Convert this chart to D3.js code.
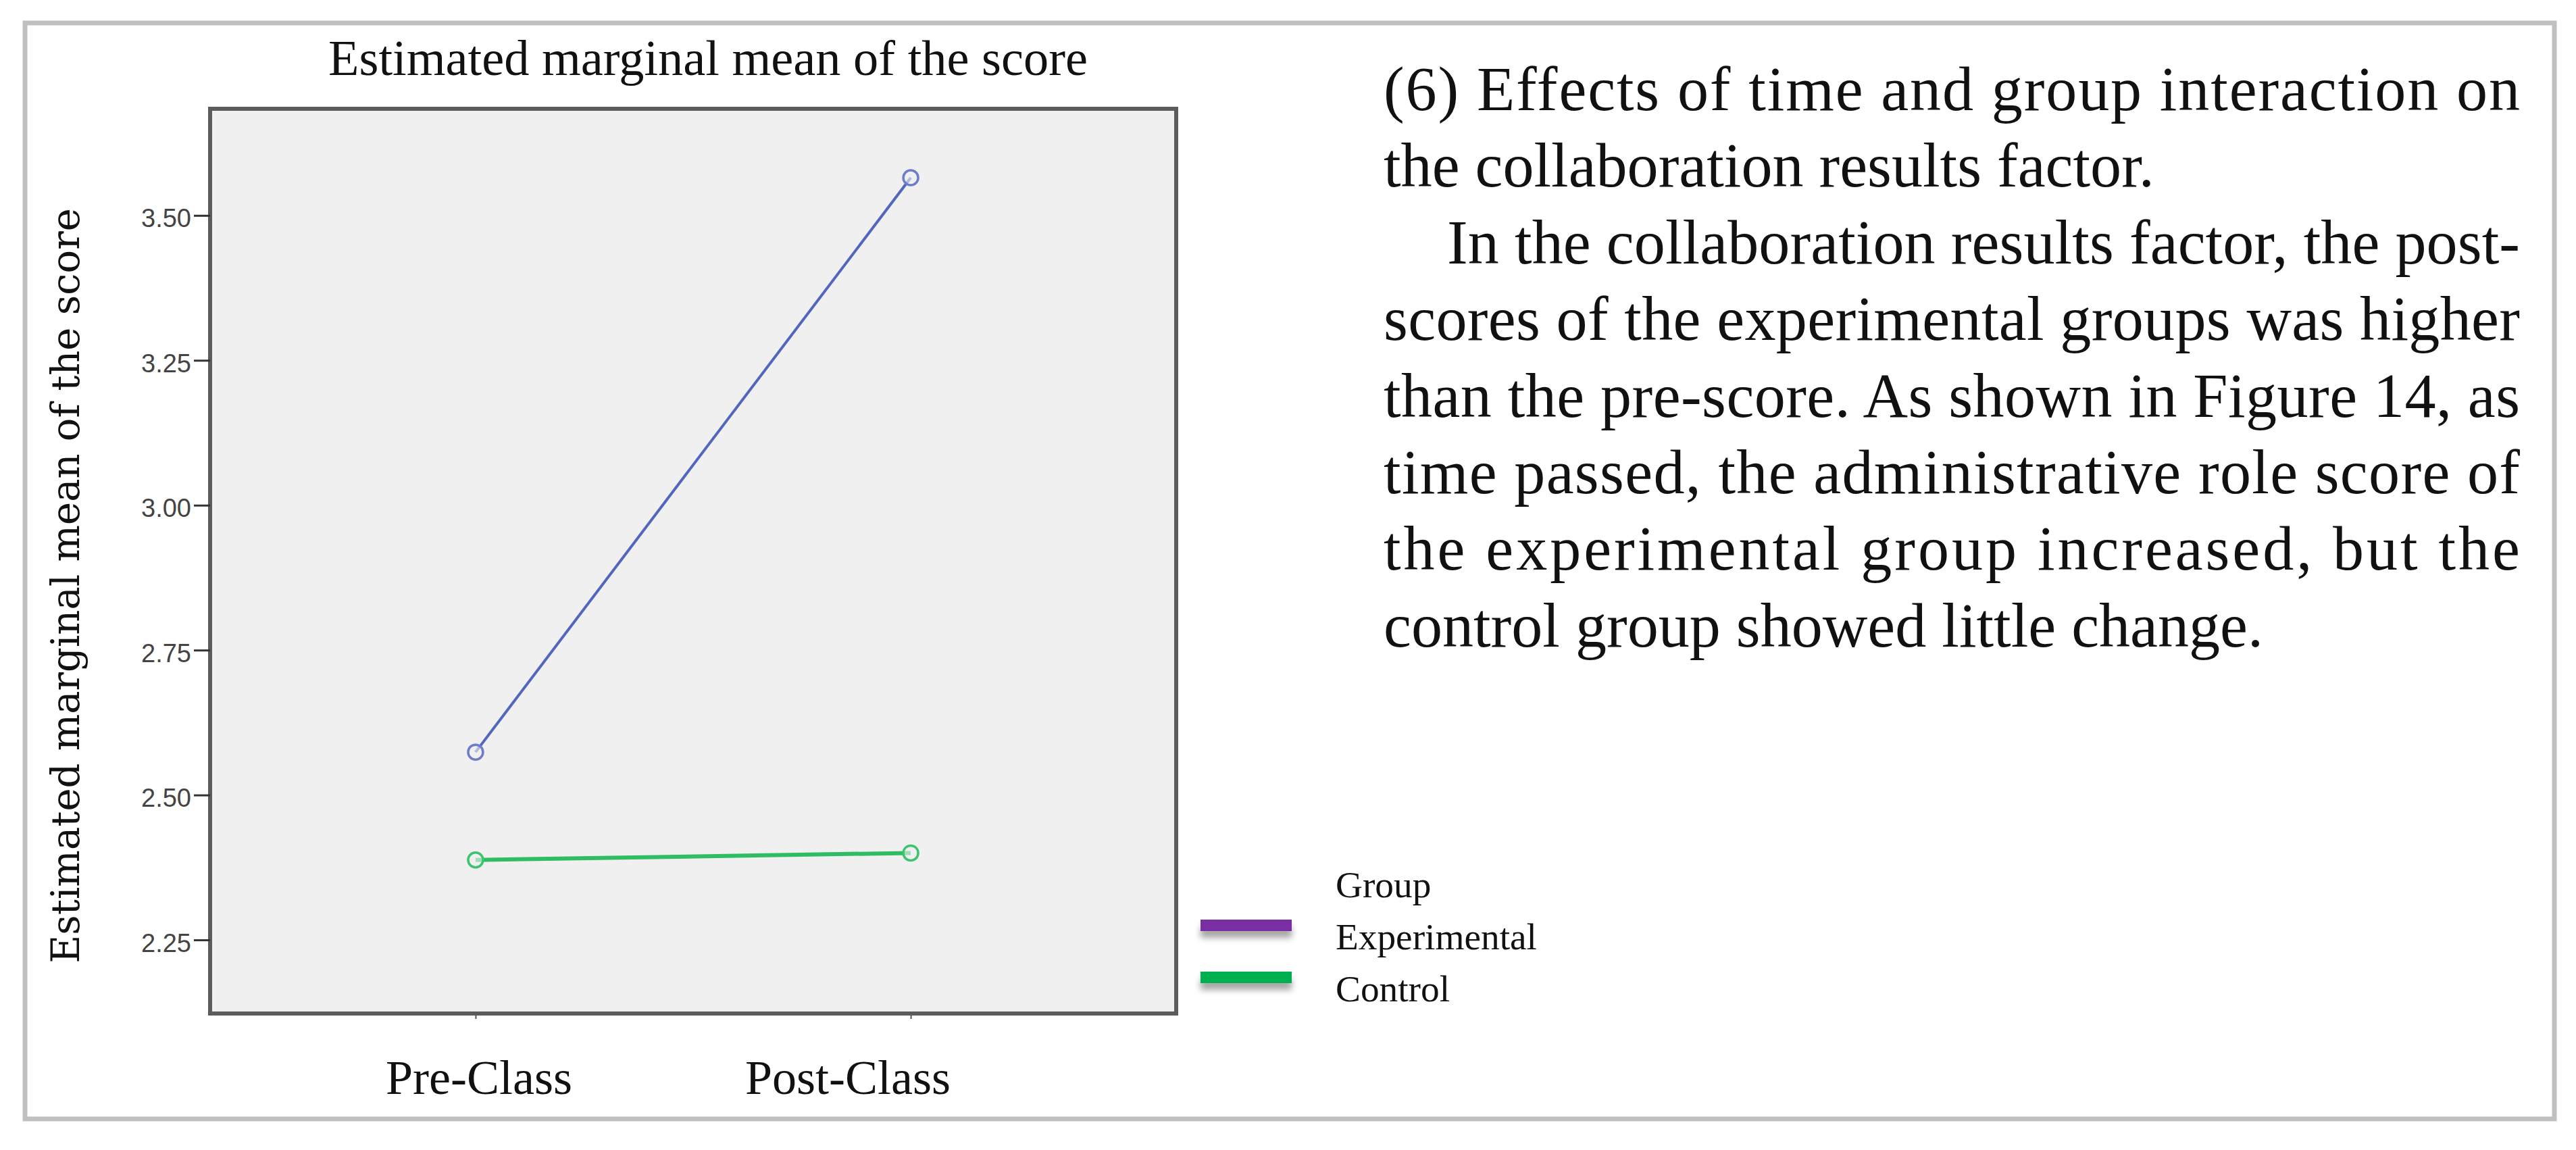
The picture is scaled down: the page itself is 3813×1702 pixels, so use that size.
<!DOCTYPE html>
<html>
<head>
<meta charset="utf-8">
<script src="https://cdn.jsdelivr.net/npm/d3@7"></script>
<style>
    body { margin: 0; background: #ffffff; }
    svg { display: block; }
</style>
</head>
<body>
<div id="svg-container"></div>
<script>

// chart data
const phases = ["Pre-Class", "Post-Class"];
const groups = ["Experimental", "Control"];
const experimentalMeans = [2.574, 3.565];
const controlMeans = [2.388, 2.400];
const yTicks = [2.25, 2.50, 2.75, 3.00, 3.25, 3.50];
const yDomain = [2.123, 3.684];

const chartTitle = "Estimated marginal mean of the score";
const yTitle = "Estimated marginal mean of the score";
const legendTitle = "Group";

const paragraph = [
    "(6) Effects of time and group interaction on",
    "the collaboration results factor.",
    "In the collaboration results factor, the post-",
    "scores of the experimental groups was higher",
    "than the pre-score. As shown in Figure 14, as",
    "time passed, the administrative role score of",
    "the experimental group increased, but the",
    "control group showed little change."
];
const justified = [true, false, true, true, true, true, true, false];
const indented = [false, false, true, false, false, false, false, false];

const [viewWidth, viewHeight] = [3813, 1702];
const plot = { left: 311, top: 161, right: 1741, bottom: 1500 };

const lineColor = { Experimental: "#5366bd", Control: "#2fbd63" };
const markColor = { Experimental: "#6f7cc8", Control: "#3cc46e" };
const lineWidth = { Experimental: 4, Control: 6 };
const legendColor = { Experimental: "#7a2da3", Control: "#00b050" };

const series = groups.map((g, i) => ({
    group: g,
    values: (i === 0 ? experimentalMeans : controlMeans).map((v, j) => ({ phase: phases[j], value: v }))
}));

// shrink or grow a text so its natural width matches a target width
const fitWidth = (sel, width) => {
    const base = +sel.attr("font-size");
    const w = sel.node().getComputedTextLength();
    sel.attr("font-size", base * width / w);
};

const svg = d3.select("#svg-container")
    .append("svg")
    .attr("width", viewWidth)
    .attr("height", viewHeight)
    .attr("viewBox", `0 0 ${viewWidth} ${viewHeight}`);

const defs = svg.append("defs");
defs.append("filter")
    .attr("id", "legend-shadow")
    .attr("x", "-20%").attr("y", "-100%")
    .attr("width", "140%").attr("height", "400%")
    .append("feDropShadow")
    .attr("dx", 0)
    .attr("dy", 10)
    .attr("stdDeviation", 5)
    .attr("flood-color", "#000")
    .attr("flood-opacity", 0.35);

// outer frame of the figure
svg.append("rect")
    .attr("x", 37)
    .attr("y", 34)
    .attr("width", 3781 - 37)
    .attr("height", 1656 - 34)
    .attr("fill", "none")
    .attr("stroke", "#c0c0c0")
    .attr("stroke-width", 7);

const x = d3.scalePoint()
    .domain(phases)
    .range([plot.left, plot.right])
    .padding(0.61);

const xLabel = d3.scalePoint()
    .domain(phases)
    .range([709, 1255]);

const y = d3.scaleLinear()
    .domain(yDomain)
    .range([plot.bottom, plot.top]);

// plot area
svg.append("rect")
    .attr("x", plot.left)
    .attr("y", plot.top)
    .attr("width", plot.right - plot.left)
    .attr("height", plot.bottom - plot.top)
    .attr("fill", "#f0f0f0")
    .attr("stroke", "#5c5c5c")
    .attr("stroke-width", 6);

const yAxis = svg.append("g")
    .attr("transform", `translate(${plot.left},0)`)
    .call(d3.axisLeft(y)
        .tickValues(yTicks)
        .tickSize(24)
        .tickPadding(4)
        .tickFormat(d3.format(".2f")));

yAxis.select(".domain").remove();
yAxis.selectAll(".tick line")
    .attr("stroke", "#333")
    .attr("stroke-width", 3);
yAxis.selectAll(".tick text")
    .attr("font-family", "Liberation Sans, Arial, sans-serif")
    .attr("font-size", 38)
    .attr("fill", "#444")
    .attr("dy", "0.45em");

const xAxis = svg.append("g")
    .attr("transform", `translate(0,${plot.bottom + 3})`)
    .call(d3.axisBottom(x).tickSize(5).tickFormat(""));

xAxis.select(".domain").remove();
xAxis.selectAll(".tick line")
    .attr("stroke", "#555")
    .attr("stroke-width", 2);

svg.selectAll(".x-label")
    .data(phases)
    .enter()
    .append("text")
    .attr("class", "x-label")
    .attr("x", d => xLabel(d))
    .attr("y", 1619)
    .attr("text-anchor", "middle")
    .attr("font-family", "Liberation Serif, Times New Roman, serif")
    .attr("font-size", 72)
    .attr("fill", "#111")
    .text(d => d);

const title = svg.append("text")
    .attr("x", 1048)
    .attr("y", 111)
    .attr("text-anchor", "middle")
    .attr("font-family", "Liberation Serif, Times New Roman, serif")
    .attr("font-size", 64)
    .attr("fill", "#111")
    .text(chartTitle);
fitWidth(title, 1124);

const yLabel = svg.append("text")
    .attr("transform", `translate(117,${(1426 + 308) / 2}) rotate(-90)`)
    .attr("text-anchor", "middle")
    .attr("font-family", "DejaVu Serif, serif")
    .attr("font-size", 56)
    .attr("fill", "#111")
    .text(yTitle);
fitWidth(yLabel, 1118);

// lines and markers
const line = d3.line()
    .x(d => x(d.phase))
    .y(d => y(d.value));

const lines = svg.append("g")
    .selectAll("g")
    .data(series)
    .enter()
    .append("g");

lines.append("path")
    .attr("d", d => line(d.values))
    .attr("fill", "none")
    .attr("stroke", d => lineColor[d.group])
    .attr("stroke-width", d => lineWidth[d.group]);

lines.selectAll("circle")
    .data(d => d.values.map(v => ({ ...v, group: d.group })))
    .enter()
    .append("circle")
    .attr("cx", d => x(d.phase))
    .attr("cy", d => y(d.value))
    .attr("r", 11)
    .attr("fill", "#f0f0f0")
    .attr("fill-opacity", 0.6)
    .attr("stroke", d => markColor[d.group])
    .attr("stroke-width", 3.5);

// legend
const legend = svg.append("g")
    .attr("transform", "translate(1777,1328)");

const legendFont = "Liberation Serif, Times New Roman, serif";

legend.append("text")
    .attr("x", 200)
    .attr("y", 0)
    .attr("font-family", legendFont)
    .attr("font-size", 52)
    .attr("fill", "#111")
    .text(legendTitle);

const legendRow = legend.selectAll(".legend-row")
    .data(groups)
    .enter()
    .append("g")
    .attr("class", "legend-row")
    .attr("transform", (d, i) => `translate(0,${(i + 1) * 77})`);

legendRow.append("rect")
    .attr("x", 0)
    .attr("y", -44)
    .attr("width", 135)
    .attr("height", 17)
    .attr("fill", d => legendColor[d])
    .attr("filter", "url(#legend-shadow)");

legendRow.append("text")
    .attr("x", 200)
    .attr("y", 0)
    .attr("font-family", legendFont)
    .attr("font-size", 52)
    .attr("fill", "#111")
    .text(d => d);

const expText = legendRow.filter(d => d === "Experimental").select("text");
const legendSize = +expText.attr("font-size") * 298 / expText.node().getComputedTextLength();
legend.selectAll("text").attr("font-size", legendSize);

// paragraph on the right
const textLeft = 2048;
const textRight = 3730;
const textIndent = 94;

const para = svg.append("g")
    .attr("font-family", "Liberation Serif, Times New Roman, serif")
    .attr("fill", "#111");

const paraLines = para.selectAll("text")
    .data(paragraph)
    .enter()
    .append("text")
    .attr("x", (d, i) => textLeft + (indented[i] ? textIndent : 0))
    .attr("y", (d, i) => 163 + i * 113.4)
    .attr("font-size", 90)
    .text(d => d);

const ref = paraLines.filter((d, i) => i === 1);
const paraSize = 90 * 1141 / ref.node().getComputedTextLength();
paraLines.attr("font-size", paraSize);

paraLines.filter((d, i) => justified[i])
    .attr("textLength", (d, i, nodes) => textRight - +d3.select(nodes[i]).attr("x"))
    .attr("lengthAdjust", "spacing");

</script>
</body>
</html>
